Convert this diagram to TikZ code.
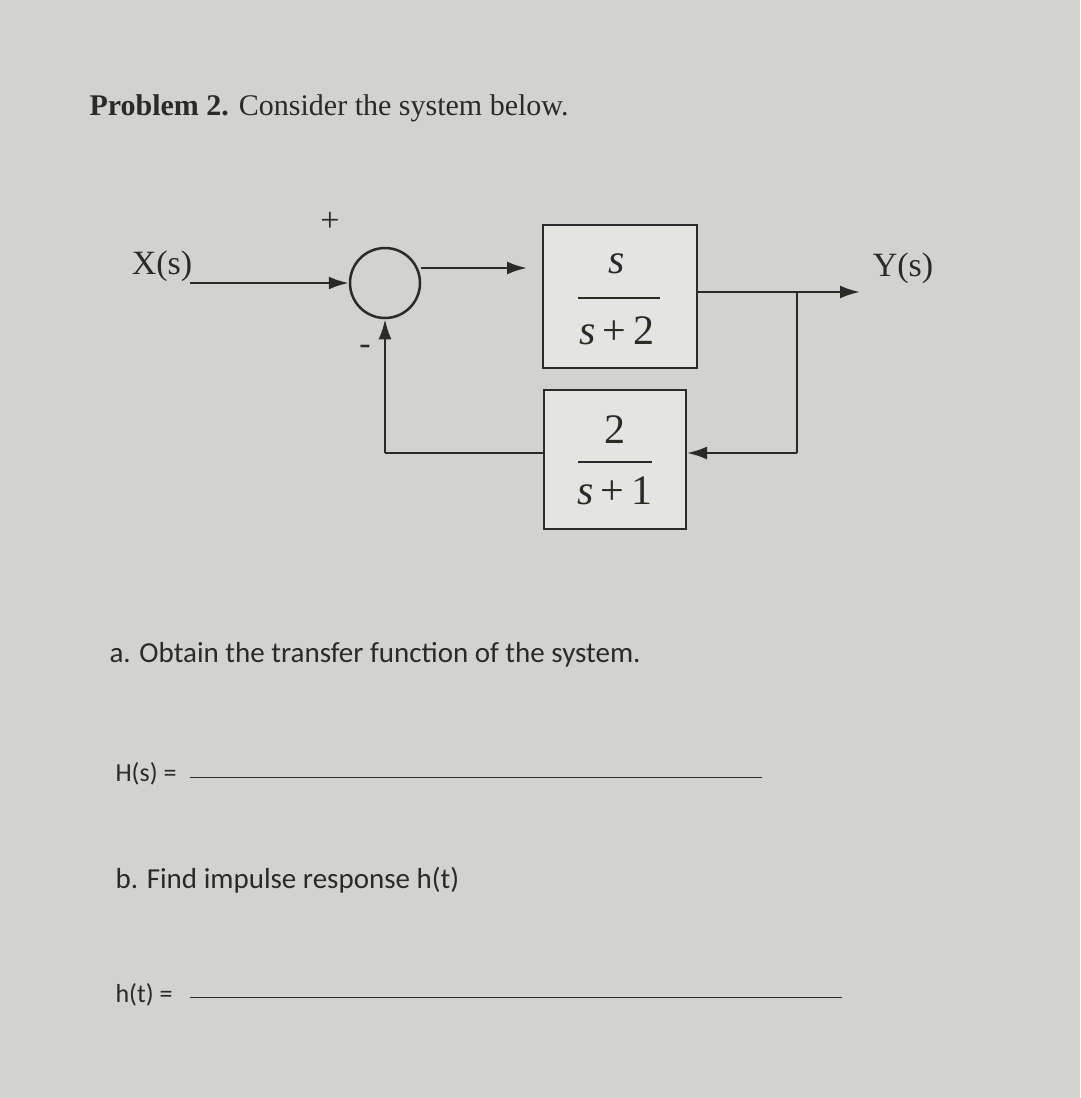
\documentclass[tikz,border=0pt]{standalone}
\usepackage{fontspec}
\setmainfont{Liberation Serif}
\newfontfamily\carlitofont{Carlito}
\usetikzlibrary{arrows.meta}
\definecolor{paper}{HTML}{D2D2CF}
\definecolor{ink}{HTML}{2A2A2A}
\tikzset{blk/.style={draw=ink,line width=2pt,fill=white!40!paper},
  wire/.style={draw=ink,line width=2.5pt},
  arr/.style={wire,-{Latex[length=20pt,width=13pt]}},
  lbl/.style={text=ink,font=\fontsize{34}{40}\selectfont},
  frac/.style={text=ink,font=\fontsize{42}{48}\selectfont},
  sans/.style={text=ink,font=\carlitofont\fontsize{29}{34}\selectfont,anchor=west}}
\begin{document}
\begin{tikzpicture}[x=1pt,y=-1pt]
\fill[paper] (0,0) rectangle (1080,1098);
\useasboundingbox (0,0) rectangle (1080,1098);
\node[lbl,anchor=west,font=\fontsize{30}{34}\selectfont] (title) at (86,108) {\textbf{Problem 2.} Consider the system below.};
\node[lbl] (x) at (162,266) {X(s)};
\node[lbl] (y) at (903,268) {Y(s)};
\node[draw=ink,line width=2.5pt,circle,minimum size=70pt,inner sep=0pt] (sum) at (385,283) {};
\node[lbl] (plus) at (330,222) {+};
\node[lbl] (minus) at (365,350) {-};
\node[blk,minimum width=154pt,minimum height=143pt] (g) at (620,296) {};
\node[frac] (gn) at (617,264) {\textit{s}};
\node[frac] (gd) at (617,331) {\textit{s}\,+\,2};
\draw[ink,line width=1.2pt] (578,298) -- (660,298);
\node[blk,minimum width=142pt,minimum height=139pt] (h) at (615,459.5) {};
\node[frac] (hn) at (615,430) {2};
\node[frac] (hd) at (615,491) {\textit{s}\,+\,1};
\draw[ink,line width=1.2pt] (578,462) -- (652,462);
\coordinate (xs) at (192,283);
\coordinate (gin) at (527,268);
\coordinate (br) at (797,292);
\coordinate (yo) at (860,292);
\coordinate (bd) at (797,453);
\coordinate (fl) at (385,453);
\draw[wire] (190,283) -- (xs);
\draw[arr] (xs) -- (sum.west);
\draw[arr] (sum.east |- gin) -- (gin);
\draw[arr] (g.east |- br) -- (yo);
\draw[wire] (br) -- (bd);
\draw[arr] (bd) -- (h.east |- bd);
\draw[wire] (h.west |- fl) -- (fl);
\draw[arr] (fl) -- (sum.south);
\node[sans] (a) at (106,655) {a. Obtain the transfer function of the system.};
\node[sans,font=\carlitofont\fontsize{26}{30}\selectfont] (hs) at (112,774) {H(s) =};
\draw[ink,line width=1pt] (190,777) -- (762,777);
\node[sans] (b) at (112,880) {b. Find impulse response h(t)};
\node[sans,font=\carlitofont\fontsize{26}{30}\selectfont] (ht) at (112,995) {h(t) =};
\draw[ink,line width=1pt] (190,997) -- (842,997);
\end{tikzpicture}
\end{document}
